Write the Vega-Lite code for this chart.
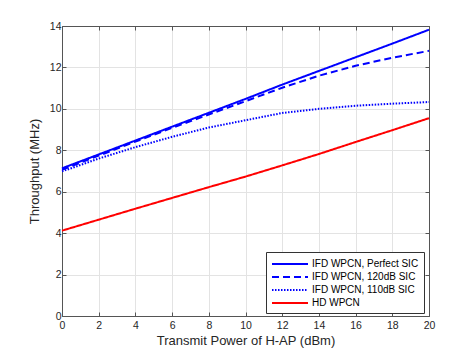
{
  "$schema": "https://vega.github.io/schema/vega-lite/v6.json",
  "autosize": "none",
  "width": 367,
  "height": 290,
  "padding": {"left": 62, "top": 26, "right": 45, "bottom": 39},
  "background": "white",
  "config": {
    "font": "Liberation Sans",
    "view": {"stroke": "#555555", "strokeWidth": 1},
    "axis": {
      "labelFont": "Liberation Sans",
      "titleFont": "Liberation Sans",
      "labelFontSize": 10.5,
      "titleFontSize": 13,
      "titleFontWeight": "normal",
      "labelColor": "#262626",
      "titleColor": "#262626",
      "domainColor": "#555555",
      "tickColor": "#555555",
      "gridColor": "#e3e3e3",
      "tickSize": -4
    }
  },
  "data": {
    "values": [
      {"x": 0, "series": "IFD WPCN, Perfect SIC", "y": 7.13},
      {"x": 2, "series": "IFD WPCN, Perfect SIC", "y": 7.8},
      {"x": 4, "series": "IFD WPCN, Perfect SIC", "y": 8.47},
      {"x": 6, "series": "IFD WPCN, Perfect SIC", "y": 9.14},
      {"x": 8, "series": "IFD WPCN, Perfect SIC", "y": 9.81},
      {"x": 10, "series": "IFD WPCN, Perfect SIC", "y": 10.48},
      {"x": 12, "series": "IFD WPCN, Perfect SIC", "y": 11.17},
      {"x": 14, "series": "IFD WPCN, Perfect SIC", "y": 11.83},
      {"x": 16, "series": "IFD WPCN, Perfect SIC", "y": 12.49},
      {"x": 18, "series": "IFD WPCN, Perfect SIC", "y": 13.15},
      {"x": 20, "series": "IFD WPCN, Perfect SIC", "y": 13.82},
      {"x": 0, "series": "IFD WPCN, 120dB SIC", "y": 7.06},
      {"x": 2, "series": "IFD WPCN, 120dB SIC", "y": 7.74},
      {"x": 4, "series": "IFD WPCN, 120dB SIC", "y": 8.42},
      {"x": 6, "series": "IFD WPCN, 120dB SIC", "y": 9.08},
      {"x": 8, "series": "IFD WPCN, 120dB SIC", "y": 9.73},
      {"x": 10, "series": "IFD WPCN, 120dB SIC", "y": 10.37},
      {"x": 12, "series": "IFD WPCN, 120dB SIC", "y": 11.02},
      {"x": 14, "series": "IFD WPCN, 120dB SIC", "y": 11.6},
      {"x": 16, "series": "IFD WPCN, 120dB SIC", "y": 12.08},
      {"x": 18, "series": "IFD WPCN, 120dB SIC", "y": 12.47},
      {"x": 20, "series": "IFD WPCN, 120dB SIC", "y": 12.8},
      {"x": 0, "series": "IFD WPCN, 110dB SIC", "y": 6.98},
      {"x": 2, "series": "IFD WPCN, 110dB SIC", "y": 7.6},
      {"x": 4, "series": "IFD WPCN, 110dB SIC", "y": 8.15},
      {"x": 6, "series": "IFD WPCN, 110dB SIC", "y": 8.65},
      {"x": 8, "series": "IFD WPCN, 110dB SIC", "y": 9.1},
      {"x": 10, "series": "IFD WPCN, 110dB SIC", "y": 9.45},
      {"x": 12, "series": "IFD WPCN, 110dB SIC", "y": 9.8},
      {"x": 14, "series": "IFD WPCN, 110dB SIC", "y": 10.0},
      {"x": 16, "series": "IFD WPCN, 110dB SIC", "y": 10.15},
      {"x": 18, "series": "IFD WPCN, 110dB SIC", "y": 10.25},
      {"x": 20, "series": "IFD WPCN, 110dB SIC", "y": 10.33},
      {"x": 0, "series": "HD WPCN", "y": 4.12},
      {"x": 2, "series": "HD WPCN", "y": 4.65},
      {"x": 4, "series": "HD WPCN", "y": 5.18},
      {"x": 6, "series": "HD WPCN", "y": 5.7},
      {"x": 8, "series": "HD WPCN", "y": 6.22},
      {"x": 10, "series": "HD WPCN", "y": 6.73},
      {"x": 12, "series": "HD WPCN", "y": 7.27},
      {"x": 14, "series": "HD WPCN", "y": 7.82},
      {"x": 16, "series": "HD WPCN", "y": 8.4},
      {"x": 18, "series": "HD WPCN", "y": 8.97},
      {"x": 20, "series": "HD WPCN", "y": 9.55}
    ]
  },
  "layer": [
    {
      "mark": {"type": "line", "strokeWidth": 2},
      "encoding": {
        "x": {
          "field": "x", "type": "quantitative",
          "scale": {"domain": [0, 20], "nice": false},
          "axis": {"values": [0,2,4,6,8,10,12,14,16,18,20], "title": "Transmit Power of H-AP (dBm)", "labelPadding": 8, "titlePadding": 4, "labelFlush": false}
        },
        "y": {
          "field": "y", "type": "quantitative",
          "scale": {"domain": [0, 14], "nice": false},
          "axis": {"values": [0,2,4,6,8,10,12,14], "title": "Throughput (MHz)", "labelPadding": 5, "titlePadding": 8, "labelFlush": false}
        },
        "color": {
          "field": "series", "type": "nominal",
          "scale": {
            "domain": ["IFD WPCN, Perfect SIC", "IFD WPCN, 120dB SIC", "IFD WPCN, 110dB SIC", "HD WPCN"],
            "range": ["#0000ff", "#0000ff", "#0000ff", "#ff0000"]
          },
          "legend": {
            "title": null,
            "orient": "none",
            "legendX": 204,
            "legendY": 226,
            "fillColor": "white",
            "strokeColor": "#333333",
            "padding": 5,
            "symbolType": "M-1,0H5",
            "symbolSize": 144,
            "symbolStrokeWidth": 2,
            "labelFont": "Liberation Sans",
            "labelFontSize": 10,
            "labelColor": "#000000",
            "rowPadding": 1,
            "labelOffset": 27
          }
        },
        "strokeDash": {
          "field": "series", "type": "nominal",
          "scale": {
            "domain": ["IFD WPCN, Perfect SIC", "IFD WPCN, 120dB SIC", "IFD WPCN, 110dB SIC", "HD WPCN"],
            "range": [[1, 0], [7, 4], [1.5, 1.5], [1, 0]]
          }
        }
      }
    },
    {
      "mark": {"type": "point", "opacity": 0},
      "encoding": {
        "x": {
          "field": "x", "type": "quantitative",
          "scale": {"domain": [0, 20], "nice": false},
          "axis": {"orient": "top", "values": [0,2,4,6,8,10,12,14,16,18,20], "labels": false, "title": null, "grid": false}
        },
        "y": {
          "field": "y", "type": "quantitative",
          "scale": {"domain": [0, 14], "nice": false},
          "axis": {"orient": "right", "values": [0,2,4,6,8,10,12,14], "labels": false, "title": null, "grid": false}
        }
      }
    }
  ],
  "resolve": {"axis": {"x": "independent", "y": "independent"}}
}
